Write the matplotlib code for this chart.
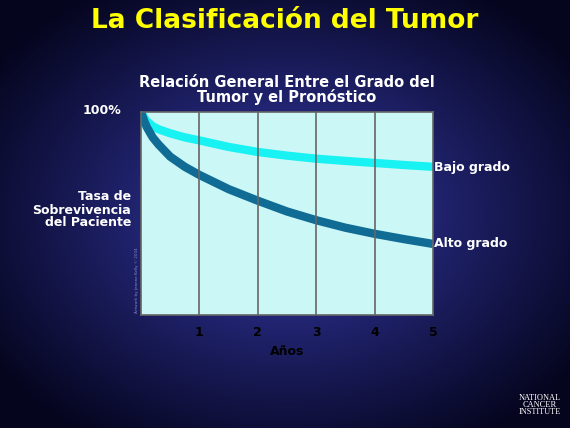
import numpy as np
import matplotlib
matplotlib.use("Agg")
import matplotlib.pyplot as plt

# ── Data ──────────────────────────────────────────────────────────────────────
years = [0, 0.05, 0.1, 0.2, 0.3, 0.5, 0.75, 1, 1.5, 2, 2.5, 3, 3.5, 4, 4.5, 5]
bajo_grado = [100, 97.5, 95.5, 93, 91.5, 89.5, 87.5, 86, 82.8, 80.3, 78.5, 77, 75.9, 74.9, 73.9, 73]
alto_grado = [100, 96, 92.5, 87.5, 84, 78, 73, 69, 62, 56.3, 51, 46.7, 43, 40, 37.4, 35]
x_ticks = [1, 2, 3, 4, 5]

W, H = 570, 428
fig = plt.figure(figsize=(W / 100, H / 100), dpi=100)

# dark blue radial background
bg = fig.add_axes([0, 0, 1, 1])
yy, xx = np.mgrid[0:H, 0:W]
r = np.sqrt(((xx - W * 0.5) / (W * 0.62)) ** 2 + ((yy - H * 0.5) / (H * 0.62)) ** 2)
t = np.clip(r, 0, 1)[..., None] ** 0.9
c_in = np.array([0.22, 0.24, 0.70])
c_out = np.array([0.02, 0.02, 0.12])
bg.imshow(c_in * (1 - t) + c_out * t, aspect="auto")
bg.axis("off")

fig.text(0.5, 0.952, "La Clasificación del Tumor", color="#ffff00", fontsize=19,
         fontweight="bold", ha="center", va="center")

ax = fig.add_axes([141 / W, 1 - 315 / H, 292 / W, 203 / H])
ax.set_facecolor("#ccf7f7")
ax.plot(years, bajo_grado, color="#18f2f2", linewidth=6, solid_capstyle="butt",
        solid_joinstyle="round")
ax.plot(years, alto_grado, color="#106c94", linewidth=6, solid_capstyle="butt",
        solid_joinstyle="round")
ax.set_xlim(0, 5)
ax.set_ylim(0, 100)
for xv in x_ticks[:-1]:
    ax.axvline(xv, color="#666666", linewidth=1.2)
for s in ax.spines.values():
    s.set_color("#666666")
    s.set_linewidth(1.2)
ax.set_yticks([])
ax.set_xticks(x_ticks)
ax.set_xticklabels([str(v) for v in x_ticks], color="black", fontsize=9,
                   fontweight="bold")
ax.tick_params(axis="x", length=0, pad=8)
ax.set_xlabel("Años", color="black", fontsize=9, fontweight="bold", labelpad=4)

ax.set_title("Relación General Entre el Grado del\nTumor y el Pronóstico",
             color="white", fontsize=10.5, fontweight="bold", linespacing=0.95, pad=7)
fig.text(102 / W, 1 - 110 / H, "100%", color="white", fontsize=9, fontweight="bold",
         ha="center", va="center")
fig.text(131 / W, 1 - 210 / H, "Tasa de\nSobrevivencia\ndel Paciente", color="white",
         fontsize=9, fontweight="bold", ha="right", va="center", linespacing=1.0)
fig.text(434 / W, 1 - 167 / H, "Bajo grado", color="white", fontsize=9,
         fontweight="bold", ha="left", va="center")
fig.text(434 / W, 1 - 243 / H, "Alto grado", color="white", fontsize=9,
         fontweight="bold", ha="left", va="center")
fig.text(137 / W, 1 - 280 / H, "Artwork by Jeanne Kelly © 2004", color="#8888cc",
         fontsize=3, rotation=90, ha="center", va="center")
fig.text(540 / W, 1 - 405 / H, "NATIONAL\nCANCER\nINSTITUTE", color="white",
         fontsize=6, family="Liberation Serif", ha="center", va="center",
         linespacing=0.9)

fig.savefig("out.png", dpi=100)
